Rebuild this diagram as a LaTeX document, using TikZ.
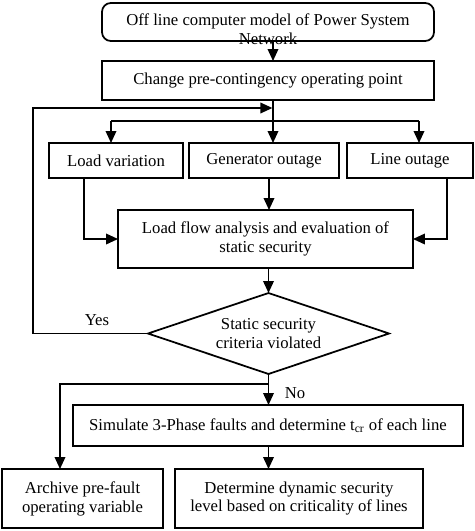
\documentclass[tikz,border=0pt]{standalone}
\usepackage{fontspec}
\setmainfont{Liberation Serif}
\usetikzlibrary{arrows.meta,shapes.geometric,calc}
\begin{document}
\begin{tikzpicture}[x=0.02cm,y=-0.02cm,
  font=\fontsize{9.5}{10.8}\selectfont,
  every node/.style={inner sep=0pt,outer sep=0pt},
  box/.style={draw,line width=1pt,align=center},
  rbox/.style={box,rounded corners=5pt},
  dia/.style={draw,line width=1pt,diamond,aspect=3,align=center},
  conn/.style={line width=0.95pt},
  arr/.style={conn,-{Triangle[length=6.8pt,width=6pt]}},
  lbl/.style={}]
\useasboundingbox (0,0) rectangle (474,531);
% nodes
\node[rbox,minimum width=6.64cm,minimum height=0.76cm] (off) at (268,22) {};
\node[lbl,align=center] (offtxt) at (268,29) {Off line computer model of Power System\\Network};
\node[box,minimum width=6.64cm,minimum height=0.78cm] (chg) at (268,80.5) {Change pre-contingency operating point};
\node[box,minimum width=2.68cm,minimum height=0.70cm] (lv) at (116,160.5) {Load variation};
\node[box,minimum width=3.0cm,minimum height=0.70cm] (go) at (264,160.5) {Generator outage};
\node[box,minimum width=2.52cm,minimum height=0.70cm] (lo) at (410,160.5) {Line outage};
\node[box,minimum width=5.9cm,minimum height=1.16cm] (lf) at (265.5,239) {Load flow analysis and evaluation of\\static security};
\node[dia,minimum width=4.82cm,minimum height=1.62cm] (ss) at (268.5,333.5) {Static security\\criteria violated};
\node[box,minimum width=7.8cm,minimum height=0.82cm] (sim) at (268,425.5) {Simulate 3-Phase faults and determine t\textsubscript{cr} of each line};
\node[box,minimum width=3.22cm,minimum height=1.18cm] (arc) at (82.5,498.5) {Archive pre-fault\\operating variable};
\node[box,minimum width=4.96cm,minimum height=1.18cm] (det) at (299,498.5) {Determine dynamic security\\level based on criticality of lines};
% helper coordinates
\coordinate (cA) at (273,108);
\coordinate (cB) at (273,121);
\coordinate (cL) at (111,121);
\coordinate (cR) at (419,121);
\coordinate (fb) at (33,108);
\coordinate (lvx) at (84,0);
\coordinate (lox) at (447,0);
\coordinate (gox) at (269,0);
\coordinate (ssx) at (268.5,0);
\coordinate (jn) at (268.5,384);
\coordinate (jl) at (60,384);
% connectors
\draw[arr] (off.south -| cA) -- (chg.north -| cA);
\draw[conn] (chg.south -| cA) -- (cB);
\draw[conn] (cL) -- (cR);
\draw[arr] (cL) -- (lv.north -| cL);
\draw[arr] (cB) -- (go.north -| cB);
\draw[arr] (cR) -- (lo.north -| cR);
\draw[arr] (ss.west) -- (ss.west -| fb) -- (fb) -- ($(cA)+(-0.6,0)$);
\draw[arr] (go.south -| gox) -- (lf.north -| gox);
\draw[arr] (lv.south -| lvx) -- (lvx |- lf.west) -- (lf.west);
\draw[arr] (lo.south -| lox) -- (lox |- lf.east) -- (lf.east);
\draw[arr] (lf.south -| ssx) -- (ss.north);
\draw[arr] (ss.south) -- (sim.north -| ss.south);
\draw[arr] (jn) -- (jl) -- (arc.north -| jl);
\draw[arr] (sim.south -| ss.south) -- (det.north -| ss.south);
% labels
\node[lbl] (yes) at (97,320) {Yes};
\node[lbl] (no) at (295,393) {No};
\end{tikzpicture}
\end{document}
